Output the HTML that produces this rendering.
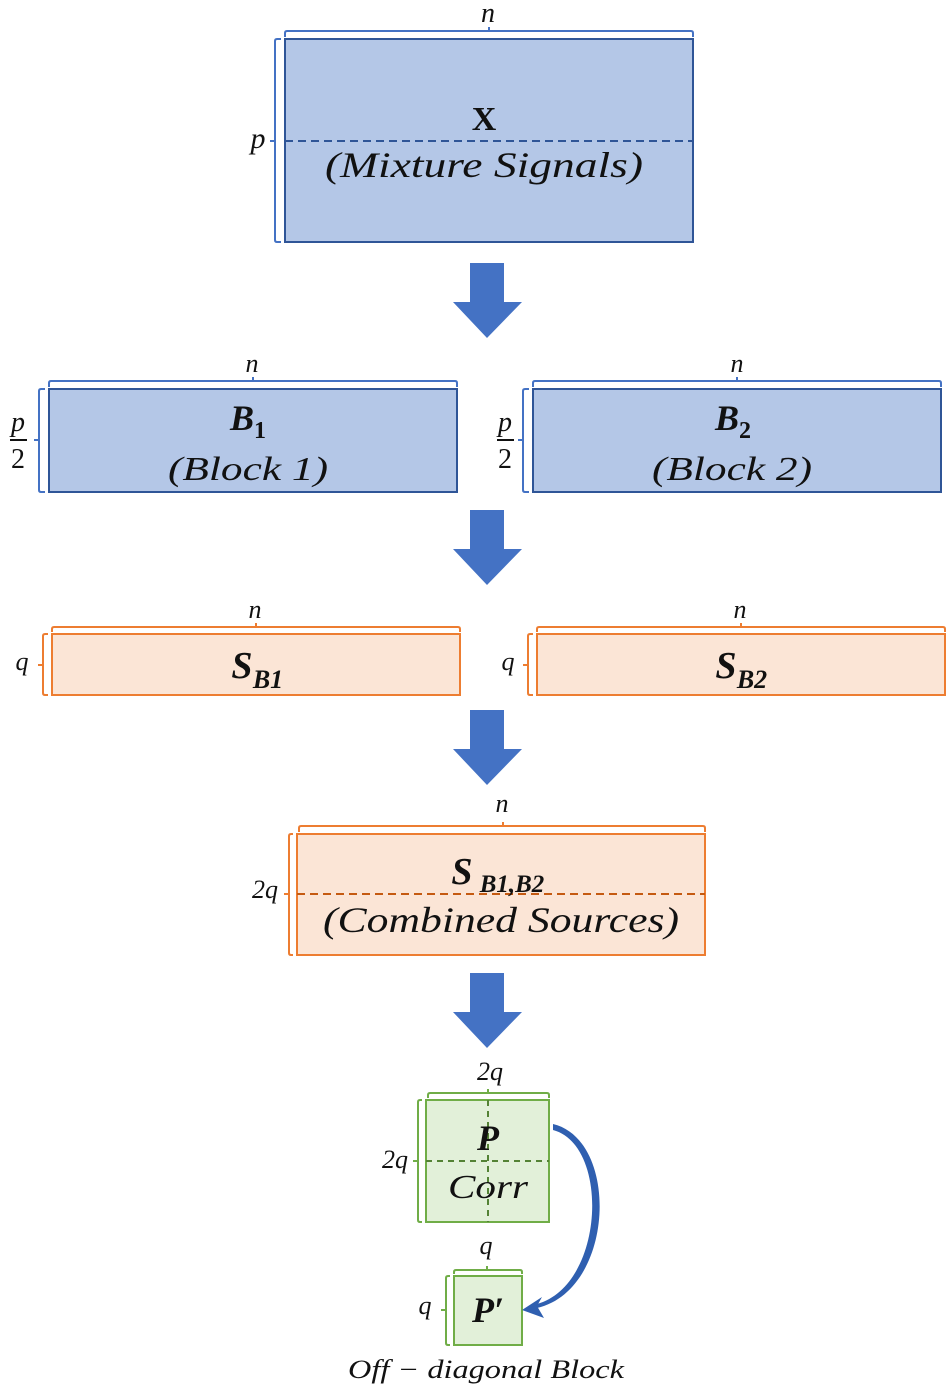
<!DOCTYPE html>
<html><head><meta charset="utf-8"><style>
html,body{margin:0;padding:0;background:#fff;}
svg{display:block}
text{font-family:"Liberation Serif","DejaVu Serif",serif;fill:#111;}
.i{font-style:italic}
.b{font-weight:bold}
</style></head><body>
<svg width="951" height="1393" viewBox="0 0 951 1393" xmlns="http://www.w3.org/2000/svg">
<defs>
<g id="arr"><path d="M470 0 H504 V39 H522 L487 75 L453 39 H470 Z" fill="#4472c4"/></g>
</defs>

<!-- X -->
<rect x="285" y="39" width="408" height="203" fill="#b4c7e7" stroke="#2f5597" stroke-width="2"/>
<line x1="285" y1="141" x2="693" y2="141" stroke="#2f5597" stroke-width="2" stroke-dasharray="8,5"/>
<path d="M285 37 V33 Q285 31 287 31 H691 Q693 31 693 33 V37 M489 31 V27" fill="none" stroke="#4472c4" stroke-width="2"/>
<path d="M281 39 H277 Q275 39 275 41 V240 Q275 242 277 242 H281 M275 141 H270" fill="none" stroke="#4472c4" stroke-width="2"/>
<text x="488" y="22" class="i" font-size="28" text-anchor="middle">n</text>
<text x="258" y="148" class="i" font-size="30" text-anchor="middle">p</text>
<text x="484" y="130" class="b" font-size="34" text-anchor="middle">X</text>
<text x="484" y="177" class="i" font-size="36" text-anchor="middle" textLength="318" lengthAdjust="spacingAndGlyphs">(Mixture Signals)</text>

<use href="#arr" transform="translate(0,263)"/>

<!-- B1 -->
<rect x="49" y="389" width="408" height="103" fill="#b4c7e7" stroke="#2f5597" stroke-width="2"/>
<path d="M49 387 V383 Q49 381 51 381 H455 Q457 381 457 383 V387 M253 381 V377" fill="none" stroke="#4472c4" stroke-width="2"/>
<path d="M45 389 H41 Q39 389 39 391 V490 Q39 492 41 492 H45 M39 440 H34" fill="none" stroke="#4472c4" stroke-width="2"/>
<text x="252" y="372" class="i" font-size="26" text-anchor="middle">n</text>
<text x="18" y="431" class="i" font-size="28" text-anchor="middle">p</text>
<line x1="10" y1="440" x2="27" y2="440" stroke="#111" stroke-width="2"/>
<text x="18" y="468" font-size="28" text-anchor="middle">2</text>
<text x="242" y="430" class="i b" font-size="36" text-anchor="middle">B</text>
<text x="260" y="438" class="b" font-size="24" text-anchor="middle">1</text>
<text x="248" y="480" class="i" font-size="34" text-anchor="middle" textLength="160" lengthAdjust="spacingAndGlyphs">(Block 1)</text>

<!-- B2 -->
<rect x="533" y="389" width="408" height="103" fill="#b4c7e7" stroke="#2f5597" stroke-width="2"/>
<path d="M533 387 V383 Q533 381 535 381 H939 Q941 381 941 383 V387 M737 381 V377" fill="none" stroke="#4472c4" stroke-width="2"/>
<path d="M529 389 H525 Q523 389 523 391 V490 Q523 492 525 492 H529 M523 440 H518" fill="none" stroke="#4472c4" stroke-width="2"/>
<text x="737" y="372" class="i" font-size="26" text-anchor="middle">n</text>
<text x="505" y="431" class="i" font-size="28" text-anchor="middle">p</text>
<line x1="497" y1="440" x2="514" y2="440" stroke="#111" stroke-width="2"/>
<text x="505" y="468" font-size="28" text-anchor="middle">2</text>
<text x="727" y="430" class="i b" font-size="36" text-anchor="middle">B</text>
<text x="745" y="438" class="b" font-size="24" text-anchor="middle">2</text>
<text x="732" y="480" class="i" font-size="34" text-anchor="middle" textLength="160" lengthAdjust="spacingAndGlyphs">(Block 2)</text>

<use href="#arr" transform="translate(0,510)"/>

<!-- S_B1 -->
<rect x="52" y="634" width="408" height="61" fill="#fbe5d6" stroke="#ed7d31" stroke-width="2"/>
<path d="M52 632 V629 Q52 627 54 627 H458 Q460 627 460 629 V632 M256 627 V623" fill="none" stroke="#ed7d31" stroke-width="2"/>
<path d="M48 634 H45 Q43 634 43 636 V693 Q43 695 45 695 H48 M43 665 H38" fill="none" stroke="#ed7d31" stroke-width="2"/>
<text x="255" y="618" class="i" font-size="26" text-anchor="middle">n</text>
<text x="22" y="670" class="i" font-size="26" text-anchor="middle">q</text>
<text x="242" y="678" class="i b" font-size="38" text-anchor="middle">S</text>
<text x="268" y="688" class="i b" font-size="26" text-anchor="middle">B1</text>

<!-- S_B2 -->
<rect x="537" y="634" width="408" height="61" fill="#fbe5d6" stroke="#ed7d31" stroke-width="2"/>
<path d="M537 632 V629 Q537 627 539 627 H943 Q945 627 945 629 V632 M741 627 V623" fill="none" stroke="#ed7d31" stroke-width="2"/>
<path d="M533 634 H530 Q528 634 528 636 V693 Q528 695 530 695 H533 M528 665 H523" fill="none" stroke="#ed7d31" stroke-width="2"/>
<text x="740" y="618" class="i" font-size="26" text-anchor="middle">n</text>
<text x="508" y="670" class="i" font-size="26" text-anchor="middle">q</text>
<text x="726" y="678" class="i b" font-size="38" text-anchor="middle">S</text>
<text x="752" y="688" class="i b" font-size="26" text-anchor="middle">B2</text>

<use href="#arr" transform="translate(0,710)"/>

<!-- S_B1,B2 -->
<rect x="297" y="834" width="408" height="121" fill="#fbe5d6" stroke="#ed7d31" stroke-width="2"/>
<line x1="297" y1="894" x2="705" y2="894" stroke="#c55a11" stroke-width="2" stroke-dasharray="8,5"/>
<path d="M299 832 V828 Q299 826 301 826 H703 Q705 826 705 828 V832 M503 826 V822" fill="none" stroke="#ed7d31" stroke-width="2"/>
<path d="M293 834 H291 Q289 834 289 836 V953 Q289 955 291 955 H293 M289 894 H284" fill="none" stroke="#ed7d31" stroke-width="2"/>
<text x="502" y="812" class="i" font-size="26" text-anchor="middle">n</text>
<text x="265" y="898" class="i" font-size="26" text-anchor="middle">2q</text>
<text x="462" y="884" class="i b" font-size="38" text-anchor="middle">S</text>
<text x="512" y="892" class="i b" font-size="25" text-anchor="middle">B1,B2</text>
<text x="501" y="932" class="i" font-size="36" text-anchor="middle" textLength="356" lengthAdjust="spacingAndGlyphs">(Combined Sources)</text>

<use href="#arr" transform="translate(0,973)"/>

<!-- P -->
<rect x="426" y="1100" width="123" height="122" fill="#e2f0d9" stroke="#70ad47" stroke-width="2"/>
<line x1="426" y1="1161" x2="549" y2="1161" stroke="#548235" stroke-width="2" stroke-dasharray="6,5"/>
<line x1="488" y1="1100" x2="488" y2="1222" stroke="#548235" stroke-width="2" stroke-dasharray="6,5"/>
<path d="M428 1098 V1095 Q428 1093 430 1093 H547 Q549 1093 549 1095 V1098 M488 1093 V1089" fill="none" stroke="#70ad47" stroke-width="2"/>
<path d="M422 1100 H420 Q418 1100 418 1102 V1220 Q418 1222 420 1222 H422 M418 1161 H413" fill="none" stroke="#70ad47" stroke-width="2"/>
<text x="490" y="1080" class="i" font-size="26" text-anchor="middle">2q</text>
<text x="395" y="1168" class="i" font-size="26" text-anchor="middle">2q</text>
<text x="488" y="1150" class="i b" font-size="36" text-anchor="middle">P</text>
<text x="488" y="1198" class="i" font-size="34" text-anchor="middle" textLength="80" lengthAdjust="spacingAndGlyphs">Corr</text>

<!-- P' -->
<rect x="454" y="1276" width="68" height="69" fill="#e2f0d9" stroke="#70ad47" stroke-width="2"/>
<path d="M454 1274 V1272 Q454 1270 456 1270 H520 Q522 1270 522 1272 V1274 M487 1270 V1266" fill="none" stroke="#70ad47" stroke-width="2"/>
<path d="M450 1276 H448 Q446 1276 446 1278 V1343 Q446 1345 448 1345 H450 M446 1310 H441" fill="none" stroke="#70ad47" stroke-width="2"/>
<text x="486" y="1254" class="i" font-size="26" text-anchor="middle">q</text>
<text x="425" y="1314" class="i" font-size="26" text-anchor="middle">q</text>
<text x="488" y="1322" class="i b" font-size="36" text-anchor="middle">P′</text>

<!-- curved arrow -->
<path d="M553 1124 C620 1140 615 1290 537 1308 L537 1304 C605 1285 610 1145 553 1130 Z" fill="#2f5fb0"/>
<path d="M522 1310 L542 1297 L537 1306 L544 1318 Z" fill="#2f5fb0"/>

<text x="486" y="1378" class="i" font-size="26" text-anchor="middle" textLength="276" lengthAdjust="spacingAndGlyphs">Off − diagonal Block</text>
</svg>
</body></html>
